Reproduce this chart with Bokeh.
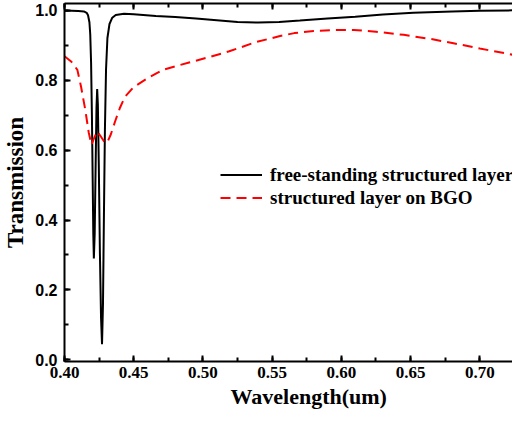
from bokeh.plotting import figure
from bokeh.models import (LinearAxis, Range1d, Legend, LegendItem, SingleIntervalTicker,
                          PrintfTickFormatter, CustomJSTickFormatter, Title)
from bokeh.embed import file_html
from bokeh.resources import INLINE

# free-standing structured layer
wl_free = [0.400, 0.405, 0.410, 0.414, 0.416, 0.417, 0.418, 0.4186, 0.4192, 0.4198,
           0.4204, 0.4208, 0.4212, 0.4218, 0.4225, 0.4231, 0.4236, 0.4241, 0.4248, 0.4256,
           0.4264, 0.4271, 0.4278, 0.4285, 0.4292, 0.4300, 0.4310, 0.4325, 0.4345, 0.437,
           0.443, 0.450, 0.466, 0.480, 0.495, 0.510, 0.525, 0.540, 0.555, 0.570,
           0.590, 0.610, 0.630, 0.652, 0.680, 0.700, 0.724]
t_free = [0.998, 0.998, 0.997, 0.996, 0.992, 0.985, 0.965, 0.93, 0.85, 0.70,
          0.50, 0.36, 0.29, 0.36, 0.56, 0.72, 0.774, 0.73, 0.55, 0.30,
          0.12, 0.045, 0.16, 0.42, 0.66, 0.83, 0.92, 0.96, 0.978, 0.986,
          0.989, 0.988, 0.983, 0.980, 0.976, 0.971, 0.966, 0.964, 0.966, 0.970,
          0.976, 0.981, 0.987, 0.992, 0.996, 0.998, 0.999]

# structured layer on BGO
wl_bgo = [0.400, 0.405, 0.4093, 0.412, 0.415, 0.4175, 0.4195, 0.4215, 0.4236, 0.426,
          0.4285, 0.4307, 0.4335, 0.4364, 0.440, 0.4436, 0.450, 0.460, 0.471, 0.490,
          0.504, 0.519, 0.538, 0.555, 0.566, 0.580, 0.597, 0.609, 0.625, 0.645,
          0.665, 0.681, 0.700, 0.724]
t_bgo = [0.868, 0.852, 0.829, 0.78, 0.715, 0.65, 0.615, 0.635, 0.653, 0.64,
         0.625, 0.62, 0.645, 0.68, 0.72, 0.752, 0.78, 0.805, 0.829, 0.85,
         0.865, 0.882, 0.908, 0.925, 0.934, 0.94, 0.943, 0.943, 0.938, 0.929,
         0.917, 0.905, 0.89, 0.872]

legend_labels = ["free-standing structured layer", "structured layer on BGO"]
x_label = "Wavelength(um)"
y_label = "Transmission"

p = figure(width=512, height=414, output_backend="svg", toolbar_location=None,
           x_range=Range1d(0.40, 0.7236), y_range=Range1d(-0.0043, 1.0186),
           min_border_left=59, min_border_right=0, min_border_bottom=53, min_border_top=3,
           x_axis_location=None, y_axis_location=None)
p.outline_line_color = None
p.xgrid.visible = False
p.ygrid.visible = False
p.background_fill_color = "white"
p.border_fill_color = "white"

xb = LinearAxis(ticker=SingleIntervalTicker(interval=0.05, num_minor_ticks=2),
                formatter=PrintfTickFormatter(format="%.2f"))
yl = LinearAxis(ticker=SingleIntervalTicker(interval=0.2, num_minor_ticks=2),
                formatter=PrintfTickFormatter(format="%.1f"))
xt = LinearAxis(ticker=SingleIntervalTicker(interval=0.05, num_minor_ticks=2),
                formatter=CustomJSTickFormatter(code="return ''"))

for ax in (xb, yl, xt):
    ax.axis_line_width = 2
    ax.axis_line_color = "black"
    ax.major_tick_in = 6
    ax.major_tick_out = 0
    ax.minor_tick_in = 4
    ax.minor_tick_out = 0
    ax.major_tick_line_width = 2
    ax.minor_tick_line_width = 2
    ax.major_tick_line_color = "black"
    ax.minor_tick_line_color = "black"

xb.major_label_text_font = "Liberation Serif"
xb.major_label_text_font_style = "bold"
xb.major_label_text_font_size = "17px"
xb.major_label_text_color = "black"
xb.major_label_standoff = 5

yl.axis_label = y_label
yl.axis_label_text_font = "Liberation Serif"
yl.axis_label_text_font_style = "bold"
yl.axis_label_text_font_size = "23px"
yl.axis_label_text_color = "black"
yl.axis_label_standoff = 4
yl.major_label_text_font = "Liberation Sans"
yl.major_label_text_font_style = "bold"
yl.major_label_text_font_size = "16px"
yl.major_label_text_color = "black"
yl.major_label_standoff = 7

xt.major_label_standoff = 0

p.add_layout(xb, "below")
p.add_layout(yl, "left")
p.add_layout(xt, "above")

xtitle = Title(text=x_label, align="left", offset=166, standoff=2,
               text_font="Liberation Serif", text_font_style="bold",
               text_font_size="22px", text_color="black")
p.add_layout(xtitle, "below")

r1 = p.line(wl_free, t_free, line_color="black", line_width=2)
r2 = p.line(wl_bgo, t_bgo, line_color="#ff0000", line_width=2, line_dash="10 6")

legend = Legend(items=[LegendItem(label=legend_labels[0], renderers=[r1]),
                       LegendItem(label=legend_labels[1], renderers=[r2])],
                location=(156, 152), padding=0, margin=0, spacing=0,
                label_height=23, glyph_height=23, glyph_width=42, label_standoff=8,
                border_line_color=None, background_fill_alpha=0,
                label_text_font="Liberation Serif", label_text_font_style="bold",
                label_text_font_size="19px", label_text_color="black")
p.add_layout(legend, "center")

open("out.html", "w").write(file_html(p, INLINE))
